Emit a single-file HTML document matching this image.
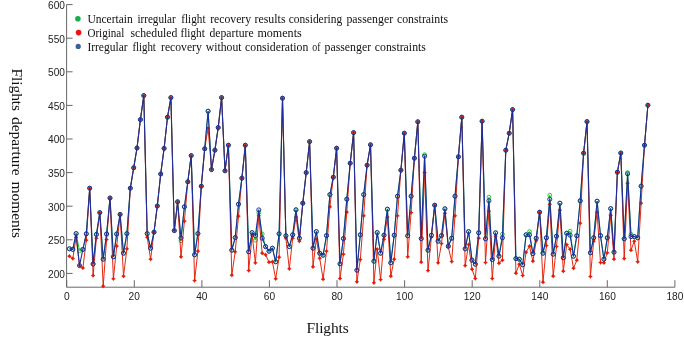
<!DOCTYPE html>
<html><head><meta charset="utf-8"><title>Flights departure moments</title>
<style>html,body{margin:0;padding:0;background:#fff}body{width:684px;height:340px;position:relative;overflow:hidden}</style></head>
<body>
<svg width="684" height="340" viewBox="0 0 684 340" style="position:absolute;left:0;top:0">
<g stroke="#686868" stroke-width="1" fill="none" shape-rendering="auto">
<path d="M66.6,4.6 V287.2 H674.9"/>
<path d="M66.6,273.4 h6"/>
<path d="M66.6,239.8 h6"/>
<path d="M66.6,206.2 h6"/>
<path d="M66.6,172.6 h6"/>
<path d="M66.6,139.0 h6"/>
<path d="M66.6,105.4 h6"/>
<path d="M66.6,71.8 h6"/>
<path d="M66.6,38.2 h6"/>
<path d="M66.6,4.6 h6"/>
<path d="M66.7,287.2 v-7"/>
<path d="M134.3,287.2 v-7"/>
<path d="M201.9,287.2 v-7"/>
<path d="M269.4,287.2 v-7"/>
<path d="M337.0,287.2 v-7"/>
<path d="M404.6,287.2 v-7"/>
<path d="M472.2,287.2 v-7"/>
<path d="M539.8,287.2 v-7"/>
<path d="M607.3,287.2 v-7"/>
<path d="M674.9,287.2 v-7"/>
</g>
<polyline points="69.4,248.8 72.8,249.4 76.1,233.6 79.5,250.7 82.9,249.4 86.3,233.8 89.7,188.2 93.1,264.0 96.4,234.4 99.8,212.6 103.2,259.2 106.6,234.0 110.0,198.0 113.4,256.8 116.7,234.0 120.1,214.4 123.5,253.2 126.9,233.6 130.3,188.2 133.7,167.8 137.0,148.0 140.4,119.6 143.8,95.6 147.2,233.6 150.6,248.2 154.0,232.2 157.3,206.0 160.7,174.0 164.1,148.4 167.5,117.2 170.9,97.6 174.3,230.6 177.6,201.8 181.0,240.7 184.4,206.8 187.8,181.8 191.2,155.6 194.6,254.8 197.9,233.6 201.3,186.2 204.7,148.8 208.1,111.2 211.5,169.6 214.9,150.2 218.2,127.6 221.6,97.6 225.0,170.8 228.4,145.2 231.8,250.2 235.2,237.6 238.5,204.2 241.9,178.2 245.3,145.2 248.7,251.8 252.1,232.6 255.4,240.2 258.8,212.7 262.2,234.0 265.6,246.6 269.0,251.2 272.4,248.2 275.7,261.8 279.1,233.8 282.5,98.2 285.9,235.8 289.3,246.6 292.7,234.8 296.0,209.8 299.4,238.2 302.8,203.2 306.2,172.6 309.6,141.6 313.0,248.2 316.3,231.6 319.7,253.2 323.1,255.2 326.5,235.6 329.9,194.6 333.3,177.2 336.6,148.2 340.0,263.8 343.4,238.6 346.8,199.2 350.2,163.2 353.6,132.6 356.9,270.2 360.3,234.8 363.7,194.6 367.1,165.2 370.5,144.8 373.9,261.2 377.2,232.6 380.6,253.2 384.0,235.2 387.4,209.2 390.8,262.8 394.2,235.2 397.5,196.2 400.9,170.2 404.3,133.2 407.7,235.8 411.1,196.2 414.4,158.2 417.8,121.8 421.2,238.6 424.6,154.7 428.0,250.2 431.4,235.2 434.7,205.2 438.1,241.2 441.5,235.6 444.9,208.8 448.3,246.2 451.7,238.2 455.0,196.2 458.4,156.8 461.8,117.2 465.2,248.8 468.6,231.6 472.0,260.2 475.3,264.2 478.7,232.8 482.1,121.2 485.5,238.8 488.9,197.2 492.3,259.6 495.6,232.8 499.0,256.2 502.4,234.2 505.8,150.2 509.2,133.2 512.6,109.6 515.9,258.6 519.3,259.2 522.7,264.8 526.1,234.8 529.5,231.6 532.9,253.6 536.2,238.2 539.6,212.2 543.0,253.2 546.4,237.8 549.8,195.2 553.2,254.2 556.5,236.2 559.9,203.2 563.3,257.8 566.7,233.2 570.1,231.2 573.5,256.2 576.8,235.8 580.2,200.8 583.6,153.2 587.0,121.6 590.4,252.8 593.7,237.8 597.1,201.2 600.5,235.6 603.9,259.2 607.3,237.8 610.7,208.6 614.0,252.2 617.4,172.2 620.8,153.0 624.2,238.8 627.6,172.6 631.0,234.2 634.3,236.6 637.7,237.8 641.1,186.2 644.5,145.2 647.9,105.2" fill="none" stroke="#22cc33" stroke-width="1" stroke-linejoin="round"/>
<g fill="none" stroke="#22cc33" stroke-width="1">
<circle cx="69.4" cy="248.8" r="1.9"/>
<circle cx="72.8" cy="249.4" r="1.9"/>
<circle cx="76.1" cy="233.6" r="1.9"/>
<circle cx="79.5" cy="250.7" r="1.9"/>
<circle cx="82.9" cy="249.4" r="1.9"/>
<circle cx="86.3" cy="233.8" r="1.9"/>
<circle cx="89.7" cy="188.2" r="1.9"/>
<circle cx="93.1" cy="264.0" r="1.9"/>
<circle cx="96.4" cy="234.4" r="1.9"/>
<circle cx="99.8" cy="212.6" r="1.9"/>
<circle cx="103.2" cy="259.2" r="1.9"/>
<circle cx="106.6" cy="234.0" r="1.9"/>
<circle cx="110.0" cy="198.0" r="1.9"/>
<circle cx="113.4" cy="256.8" r="1.9"/>
<circle cx="116.7" cy="234.0" r="1.9"/>
<circle cx="120.1" cy="214.4" r="1.9"/>
<circle cx="123.5" cy="253.2" r="1.9"/>
<circle cx="126.9" cy="233.6" r="1.9"/>
<circle cx="130.3" cy="188.2" r="1.9"/>
<circle cx="133.7" cy="167.8" r="1.9"/>
<circle cx="137.0" cy="148.0" r="1.9"/>
<circle cx="140.4" cy="119.6" r="1.9"/>
<circle cx="143.8" cy="95.6" r="1.9"/>
<circle cx="147.2" cy="233.6" r="1.9"/>
<circle cx="150.6" cy="248.2" r="1.9"/>
<circle cx="154.0" cy="232.2" r="1.9"/>
<circle cx="157.3" cy="206.0" r="1.9"/>
<circle cx="160.7" cy="174.0" r="1.9"/>
<circle cx="164.1" cy="148.4" r="1.9"/>
<circle cx="167.5" cy="117.2" r="1.9"/>
<circle cx="170.9" cy="97.6" r="1.9"/>
<circle cx="174.3" cy="230.6" r="1.9"/>
<circle cx="177.6" cy="201.8" r="1.9"/>
<circle cx="181.0" cy="240.7" r="1.9"/>
<circle cx="184.4" cy="206.8" r="1.9"/>
<circle cx="187.8" cy="181.8" r="1.9"/>
<circle cx="191.2" cy="155.6" r="1.9"/>
<circle cx="194.6" cy="254.8" r="1.9"/>
<circle cx="197.9" cy="233.6" r="1.9"/>
<circle cx="201.3" cy="186.2" r="1.9"/>
<circle cx="204.7" cy="148.8" r="1.9"/>
<circle cx="208.1" cy="111.2" r="1.9"/>
<circle cx="211.5" cy="169.6" r="1.9"/>
<circle cx="214.9" cy="150.2" r="1.9"/>
<circle cx="218.2" cy="127.6" r="1.9"/>
<circle cx="221.6" cy="97.6" r="1.9"/>
<circle cx="225.0" cy="170.8" r="1.9"/>
<circle cx="228.4" cy="145.2" r="1.9"/>
<circle cx="231.8" cy="250.2" r="1.9"/>
<circle cx="235.2" cy="237.6" r="1.9"/>
<circle cx="238.5" cy="204.2" r="1.9"/>
<circle cx="241.9" cy="178.2" r="1.9"/>
<circle cx="245.3" cy="145.2" r="1.9"/>
<circle cx="248.7" cy="251.8" r="1.9"/>
<circle cx="252.1" cy="232.6" r="1.9"/>
<circle cx="255.4" cy="240.2" r="1.9"/>
<circle cx="258.8" cy="212.7" r="1.9"/>
<circle cx="262.2" cy="234.0" r="1.9"/>
<circle cx="265.6" cy="246.6" r="1.9"/>
<circle cx="269.0" cy="251.2" r="1.9"/>
<circle cx="272.4" cy="248.2" r="1.9"/>
<circle cx="275.7" cy="261.8" r="1.9"/>
<circle cx="279.1" cy="233.8" r="1.9"/>
<circle cx="282.5" cy="98.2" r="1.9"/>
<circle cx="285.9" cy="235.8" r="1.9"/>
<circle cx="289.3" cy="246.6" r="1.9"/>
<circle cx="292.7" cy="234.8" r="1.9"/>
<circle cx="296.0" cy="209.8" r="1.9"/>
<circle cx="299.4" cy="238.2" r="1.9"/>
<circle cx="302.8" cy="203.2" r="1.9"/>
<circle cx="306.2" cy="172.6" r="1.9"/>
<circle cx="309.6" cy="141.6" r="1.9"/>
<circle cx="313.0" cy="248.2" r="1.9"/>
<circle cx="316.3" cy="231.6" r="1.9"/>
<circle cx="319.7" cy="253.2" r="1.9"/>
<circle cx="323.1" cy="255.2" r="1.9"/>
<circle cx="326.5" cy="235.6" r="1.9"/>
<circle cx="329.9" cy="194.6" r="1.9"/>
<circle cx="333.3" cy="177.2" r="1.9"/>
<circle cx="336.6" cy="148.2" r="1.9"/>
<circle cx="340.0" cy="263.8" r="1.9"/>
<circle cx="343.4" cy="238.6" r="1.9"/>
<circle cx="346.8" cy="199.2" r="1.9"/>
<circle cx="350.2" cy="163.2" r="1.9"/>
<circle cx="353.6" cy="132.6" r="1.9"/>
<circle cx="356.9" cy="270.2" r="1.9"/>
<circle cx="360.3" cy="234.8" r="1.9"/>
<circle cx="363.7" cy="194.6" r="1.9"/>
<circle cx="367.1" cy="165.2" r="1.9"/>
<circle cx="370.5" cy="144.8" r="1.9"/>
<circle cx="373.9" cy="261.2" r="1.9"/>
<circle cx="377.2" cy="232.6" r="1.9"/>
<circle cx="380.6" cy="253.2" r="1.9"/>
<circle cx="384.0" cy="235.2" r="1.9"/>
<circle cx="387.4" cy="209.2" r="1.9"/>
<circle cx="390.8" cy="262.8" r="1.9"/>
<circle cx="394.2" cy="235.2" r="1.9"/>
<circle cx="397.5" cy="196.2" r="1.9"/>
<circle cx="400.9" cy="170.2" r="1.9"/>
<circle cx="404.3" cy="133.2" r="1.9"/>
<circle cx="407.7" cy="235.8" r="1.9"/>
<circle cx="411.1" cy="196.2" r="1.9"/>
<circle cx="414.4" cy="158.2" r="1.9"/>
<circle cx="417.8" cy="121.8" r="1.9"/>
<circle cx="421.2" cy="238.6" r="1.9"/>
<circle cx="424.6" cy="154.7" r="1.9"/>
<circle cx="428.0" cy="250.2" r="1.9"/>
<circle cx="431.4" cy="235.2" r="1.9"/>
<circle cx="434.7" cy="205.2" r="1.9"/>
<circle cx="438.1" cy="241.2" r="1.9"/>
<circle cx="441.5" cy="235.6" r="1.9"/>
<circle cx="444.9" cy="208.8" r="1.9"/>
<circle cx="448.3" cy="246.2" r="1.9"/>
<circle cx="451.7" cy="238.2" r="1.9"/>
<circle cx="455.0" cy="196.2" r="1.9"/>
<circle cx="458.4" cy="156.8" r="1.9"/>
<circle cx="461.8" cy="117.2" r="1.9"/>
<circle cx="465.2" cy="248.8" r="1.9"/>
<circle cx="468.6" cy="231.6" r="1.9"/>
<circle cx="472.0" cy="260.2" r="1.9"/>
<circle cx="475.3" cy="264.2" r="1.9"/>
<circle cx="478.7" cy="232.8" r="1.9"/>
<circle cx="482.1" cy="121.2" r="1.9"/>
<circle cx="485.5" cy="238.8" r="1.9"/>
<circle cx="488.9" cy="197.2" r="1.9"/>
<circle cx="492.3" cy="259.6" r="1.9"/>
<circle cx="495.6" cy="232.8" r="1.9"/>
<circle cx="499.0" cy="256.2" r="1.9"/>
<circle cx="502.4" cy="234.2" r="1.9"/>
<circle cx="505.8" cy="150.2" r="1.9"/>
<circle cx="509.2" cy="133.2" r="1.9"/>
<circle cx="512.6" cy="109.6" r="1.9"/>
<circle cx="515.9" cy="258.6" r="1.9"/>
<circle cx="519.3" cy="259.2" r="1.9"/>
<circle cx="522.7" cy="264.8" r="1.9"/>
<circle cx="526.1" cy="234.8" r="1.9"/>
<circle cx="529.5" cy="231.6" r="1.9"/>
<circle cx="532.9" cy="253.6" r="1.9"/>
<circle cx="536.2" cy="238.2" r="1.9"/>
<circle cx="539.6" cy="212.2" r="1.9"/>
<circle cx="543.0" cy="253.2" r="1.9"/>
<circle cx="546.4" cy="237.8" r="1.9"/>
<circle cx="549.8" cy="195.2" r="1.9"/>
<circle cx="553.2" cy="254.2" r="1.9"/>
<circle cx="556.5" cy="236.2" r="1.9"/>
<circle cx="559.9" cy="203.2" r="1.9"/>
<circle cx="563.3" cy="257.8" r="1.9"/>
<circle cx="566.7" cy="233.2" r="1.9"/>
<circle cx="570.1" cy="231.2" r="1.9"/>
<circle cx="573.5" cy="256.2" r="1.9"/>
<circle cx="576.8" cy="235.8" r="1.9"/>
<circle cx="580.2" cy="200.8" r="1.9"/>
<circle cx="583.6" cy="153.2" r="1.9"/>
<circle cx="587.0" cy="121.6" r="1.9"/>
<circle cx="590.4" cy="252.8" r="1.9"/>
<circle cx="593.7" cy="237.8" r="1.9"/>
<circle cx="597.1" cy="201.2" r="1.9"/>
<circle cx="600.5" cy="235.6" r="1.9"/>
<circle cx="603.9" cy="259.2" r="1.9"/>
<circle cx="607.3" cy="237.8" r="1.9"/>
<circle cx="610.7" cy="208.6" r="1.9"/>
<circle cx="614.0" cy="252.2" r="1.9"/>
<circle cx="617.4" cy="172.2" r="1.9"/>
<circle cx="620.8" cy="153.0" r="1.9"/>
<circle cx="624.2" cy="238.8" r="1.9"/>
<circle cx="627.6" cy="172.6" r="1.9"/>
<circle cx="631.0" cy="234.2" r="1.9"/>
<circle cx="634.3" cy="236.6" r="1.9"/>
<circle cx="637.7" cy="237.8" r="1.9"/>
<circle cx="641.1" cy="186.2" r="1.9"/>
<circle cx="644.5" cy="145.2" r="1.9"/>
<circle cx="647.9" cy="105.2" r="1.9"/>
</g>
<polyline points="69.4,256.2 72.8,258.6 76.1,237.2 79.5,265.6 82.9,268.0 86.3,240.2 89.7,188.2 93.1,275.6 96.4,238.2 99.8,212.6 103.2,286.2 106.6,239.6 110.0,198.0 113.4,278.8 116.7,246.2 120.1,214.4 123.5,276.2 126.9,248.8 130.3,188.2 133.7,167.8 137.0,148.0 140.4,119.6 143.8,95.6 147.2,237.2 150.6,259.2 154.0,232.2 157.3,206.0 160.7,174.0 164.1,148.4 167.5,117.2 170.9,97.6 174.3,230.6 177.6,201.8 181.0,256.8 184.4,221.2 187.8,181.8 191.2,155.6 194.6,280.6 197.9,251.2 201.3,186.2 204.7,148.8 208.1,128.2 211.5,169.6 214.9,150.2 218.2,127.6 221.6,97.6 225.0,170.8 228.4,145.2 231.8,275.2 235.2,251.8 238.5,216.2 241.9,178.2 245.3,145.2 248.7,270.6 252.1,235.2 255.4,262.8 258.8,215.7 262.2,253.2 265.6,254.8 269.0,262.2 272.4,261.8 275.7,278.8 279.1,257.2 282.5,98.2 285.9,238.2 289.3,268.8 292.7,238.2 296.0,217.2 299.4,241.2 302.8,203.2 306.2,172.6 309.6,141.6 313.0,266.8 316.3,239.2 319.7,258.2 323.1,279.2 326.5,251.2 329.9,206.8 333.3,177.2 336.6,148.2 340.0,278.6 343.4,254.2 346.8,212.2 350.2,163.2 353.6,132.6 356.9,281.8 360.3,259.6 363.7,215.8 367.1,165.2 370.5,144.8 373.9,282.8 377.2,249.2 380.6,279.6 384.0,239.2 387.4,217.2 390.8,276.2 394.2,259.2 397.5,215.8 400.9,170.2 404.3,133.2 407.7,256.8 411.1,212.6 414.4,158.2 417.8,121.8 421.2,262.2 424.6,172.6 428.0,270.6 431.4,237.2 434.7,205.2 438.1,262.8 441.5,243.6 444.9,213.2 448.3,247.2 451.7,261.6 455.0,215.8 458.4,156.8 461.8,117.2 465.2,265.6 468.6,244.6 472.0,269.2 475.3,278.6 478.7,238.2 482.1,121.2 485.5,262.6 488.9,211.2 492.3,278.6 495.6,236.2 499.0,263.2 502.4,260.2 505.8,150.2 509.2,133.2 512.6,109.6 515.9,273.2 519.3,264.2 522.7,275.6 526.1,252.2 529.5,246.2 532.9,261.2 536.2,240.8 539.6,212.2 543.0,282.2 546.4,245.6 549.8,204.2 553.2,276.2 556.5,246.6 559.9,210.2 563.3,271.2 566.7,244.6 570.1,249.2 573.5,268.2 576.8,260.2 580.2,223.2 583.6,153.2 587.0,121.6 590.4,276.6 593.7,241.2 597.1,212.2 600.5,262.6 603.9,262.8 607.3,252.8 610.7,215.2 614.0,259.2 617.4,172.2 620.8,153.0 624.2,258.6 627.6,183.2 631.0,250.2 634.3,241.2 637.7,261.8 641.1,203.2 644.5,145.2 647.9,105.2" fill="none" stroke="#e21c05" stroke-width="0.95" stroke-linejoin="round"/>
<g fill="#e21c05" stroke="#e21c05" stroke-width="0.9">
<path d="M67.4,256.2h4M69.4,254.2v4"/><circle cx="69.4" cy="256.2" r="1.35" stroke="none"/>
<path d="M70.8,258.6h4M72.8,256.6v4"/><circle cx="72.8" cy="258.6" r="1.35" stroke="none"/>
<path d="M74.1,237.2h4M76.1,235.2v4"/><circle cx="76.1" cy="237.2" r="1.35" stroke="none"/>
<path d="M77.5,265.6h4M79.5,263.6v4"/><circle cx="79.5" cy="265.6" r="1.35" stroke="none"/>
<path d="M80.9,268.0h4M82.9,266.0v4"/><circle cx="82.9" cy="268.0" r="1.35" stroke="none"/>
<path d="M84.3,240.2h4M86.3,238.2v4"/><circle cx="86.3" cy="240.2" r="1.35" stroke="none"/>
<path d="M87.7,188.2h4M89.7,186.2v4"/><circle cx="89.7" cy="188.2" r="1.35" stroke="none"/>
<path d="M91.1,275.6h4M93.1,273.6v4"/><circle cx="93.1" cy="275.6" r="1.35" stroke="none"/>
<path d="M94.4,238.2h4M96.4,236.2v4"/><circle cx="96.4" cy="238.2" r="1.35" stroke="none"/>
<path d="M97.8,212.6h4M99.8,210.6v4"/><circle cx="99.8" cy="212.6" r="1.35" stroke="none"/>
<path d="M101.2,286.2h4M103.2,284.2v4"/><circle cx="103.2" cy="286.2" r="1.35" stroke="none"/>
<path d="M104.6,239.6h4M106.6,237.6v4"/><circle cx="106.6" cy="239.6" r="1.35" stroke="none"/>
<path d="M108.0,198.0h4M110.0,196.0v4"/><circle cx="110.0" cy="198.0" r="1.35" stroke="none"/>
<path d="M111.4,278.8h4M113.4,276.8v4"/><circle cx="113.4" cy="278.8" r="1.35" stroke="none"/>
<path d="M114.7,246.2h4M116.7,244.2v4"/><circle cx="116.7" cy="246.2" r="1.35" stroke="none"/>
<path d="M118.1,214.4h4M120.1,212.4v4"/><circle cx="120.1" cy="214.4" r="1.35" stroke="none"/>
<path d="M121.5,276.2h4M123.5,274.2v4"/><circle cx="123.5" cy="276.2" r="1.35" stroke="none"/>
<path d="M124.9,248.8h4M126.9,246.8v4"/><circle cx="126.9" cy="248.8" r="1.35" stroke="none"/>
<path d="M128.3,188.2h4M130.3,186.2v4"/><circle cx="130.3" cy="188.2" r="1.35" stroke="none"/>
<path d="M131.7,167.8h4M133.7,165.8v4"/><circle cx="133.7" cy="167.8" r="1.35" stroke="none"/>
<path d="M135.0,148.0h4M137.0,146.0v4"/><circle cx="137.0" cy="148.0" r="1.35" stroke="none"/>
<path d="M138.4,119.6h4M140.4,117.6v4"/><circle cx="140.4" cy="119.6" r="1.35" stroke="none"/>
<path d="M141.8,95.6h4M143.8,93.6v4"/><circle cx="143.8" cy="95.6" r="1.35" stroke="none"/>
<path d="M145.2,237.2h4M147.2,235.2v4"/><circle cx="147.2" cy="237.2" r="1.35" stroke="none"/>
<path d="M148.6,259.2h4M150.6,257.2v4"/><circle cx="150.6" cy="259.2" r="1.35" stroke="none"/>
<path d="M152.0,232.2h4M154.0,230.2v4"/><circle cx="154.0" cy="232.2" r="1.35" stroke="none"/>
<path d="M155.3,206.0h4M157.3,204.0v4"/><circle cx="157.3" cy="206.0" r="1.35" stroke="none"/>
<path d="M158.7,174.0h4M160.7,172.0v4"/><circle cx="160.7" cy="174.0" r="1.35" stroke="none"/>
<path d="M162.1,148.4h4M164.1,146.4v4"/><circle cx="164.1" cy="148.4" r="1.35" stroke="none"/>
<path d="M165.5,117.2h4M167.5,115.2v4"/><circle cx="167.5" cy="117.2" r="1.35" stroke="none"/>
<path d="M168.9,97.6h4M170.9,95.6v4"/><circle cx="170.9" cy="97.6" r="1.35" stroke="none"/>
<path d="M172.3,230.6h4M174.3,228.6v4"/><circle cx="174.3" cy="230.6" r="1.35" stroke="none"/>
<path d="M175.6,201.8h4M177.6,199.8v4"/><circle cx="177.6" cy="201.8" r="1.35" stroke="none"/>
<path d="M179.0,256.8h4M181.0,254.8v4"/><circle cx="181.0" cy="256.8" r="1.35" stroke="none"/>
<path d="M182.4,221.2h4M184.4,219.2v4"/><circle cx="184.4" cy="221.2" r="1.35" stroke="none"/>
<path d="M185.8,181.8h4M187.8,179.8v4"/><circle cx="187.8" cy="181.8" r="1.35" stroke="none"/>
<path d="M189.2,155.6h4M191.2,153.6v4"/><circle cx="191.2" cy="155.6" r="1.35" stroke="none"/>
<path d="M192.6,280.6h4M194.6,278.6v4"/><circle cx="194.6" cy="280.6" r="1.35" stroke="none"/>
<path d="M195.9,251.2h4M197.9,249.2v4"/><circle cx="197.9" cy="251.2" r="1.35" stroke="none"/>
<path d="M199.3,186.2h4M201.3,184.2v4"/><circle cx="201.3" cy="186.2" r="1.35" stroke="none"/>
<path d="M202.7,148.8h4M204.7,146.8v4"/><circle cx="204.7" cy="148.8" r="1.35" stroke="none"/>
<path d="M206.1,128.2h4M208.1,126.2v4"/><circle cx="208.1" cy="128.2" r="1.35" stroke="none"/>
<path d="M209.5,169.6h4M211.5,167.6v4"/><circle cx="211.5" cy="169.6" r="1.35" stroke="none"/>
<path d="M212.9,150.2h4M214.9,148.2v4"/><circle cx="214.9" cy="150.2" r="1.35" stroke="none"/>
<path d="M216.2,127.6h4M218.2,125.6v4"/><circle cx="218.2" cy="127.6" r="1.35" stroke="none"/>
<path d="M219.6,97.6h4M221.6,95.6v4"/><circle cx="221.6" cy="97.6" r="1.35" stroke="none"/>
<path d="M223.0,170.8h4M225.0,168.8v4"/><circle cx="225.0" cy="170.8" r="1.35" stroke="none"/>
<path d="M226.4,145.2h4M228.4,143.2v4"/><circle cx="228.4" cy="145.2" r="1.35" stroke="none"/>
<path d="M229.8,275.2h4M231.8,273.2v4"/><circle cx="231.8" cy="275.2" r="1.35" stroke="none"/>
<path d="M233.2,251.8h4M235.2,249.8v4"/><circle cx="235.2" cy="251.8" r="1.35" stroke="none"/>
<path d="M236.5,216.2h4M238.5,214.2v4"/><circle cx="238.5" cy="216.2" r="1.35" stroke="none"/>
<path d="M239.9,178.2h4M241.9,176.2v4"/><circle cx="241.9" cy="178.2" r="1.35" stroke="none"/>
<path d="M243.3,145.2h4M245.3,143.2v4"/><circle cx="245.3" cy="145.2" r="1.35" stroke="none"/>
<path d="M246.7,270.6h4M248.7,268.6v4"/><circle cx="248.7" cy="270.6" r="1.35" stroke="none"/>
<path d="M250.1,235.2h4M252.1,233.2v4"/><circle cx="252.1" cy="235.2" r="1.35" stroke="none"/>
<path d="M253.4,262.8h4M255.4,260.8v4"/><circle cx="255.4" cy="262.8" r="1.35" stroke="none"/>
<path d="M256.8,215.7h4M258.8,213.7v4"/><circle cx="258.8" cy="215.7" r="1.35" stroke="none"/>
<path d="M260.2,253.2h4M262.2,251.2v4"/><circle cx="262.2" cy="253.2" r="1.35" stroke="none"/>
<path d="M263.6,254.8h4M265.6,252.8v4"/><circle cx="265.6" cy="254.8" r="1.35" stroke="none"/>
<path d="M267.0,262.2h4M269.0,260.2v4"/><circle cx="269.0" cy="262.2" r="1.35" stroke="none"/>
<path d="M270.4,261.8h4M272.4,259.8v4"/><circle cx="272.4" cy="261.8" r="1.35" stroke="none"/>
<path d="M273.7,278.8h4M275.7,276.8v4"/><circle cx="275.7" cy="278.8" r="1.35" stroke="none"/>
<path d="M277.1,257.2h4M279.1,255.2v4"/><circle cx="279.1" cy="257.2" r="1.35" stroke="none"/>
<path d="M280.5,98.2h4M282.5,96.2v4"/><circle cx="282.5" cy="98.2" r="1.35" stroke="none"/>
<path d="M283.9,238.2h4M285.9,236.2v4"/><circle cx="285.9" cy="238.2" r="1.35" stroke="none"/>
<path d="M287.3,268.8h4M289.3,266.8v4"/><circle cx="289.3" cy="268.8" r="1.35" stroke="none"/>
<path d="M290.7,238.2h4M292.7,236.2v4"/><circle cx="292.7" cy="238.2" r="1.35" stroke="none"/>
<path d="M294.0,217.2h4M296.0,215.2v4"/><circle cx="296.0" cy="217.2" r="1.35" stroke="none"/>
<path d="M297.4,241.2h4M299.4,239.2v4"/><circle cx="299.4" cy="241.2" r="1.35" stroke="none"/>
<path d="M300.8,203.2h4M302.8,201.2v4"/><circle cx="302.8" cy="203.2" r="1.35" stroke="none"/>
<path d="M304.2,172.6h4M306.2,170.6v4"/><circle cx="306.2" cy="172.6" r="1.35" stroke="none"/>
<path d="M307.6,141.6h4M309.6,139.6v4"/><circle cx="309.6" cy="141.6" r="1.35" stroke="none"/>
<path d="M311.0,266.8h4M313.0,264.8v4"/><circle cx="313.0" cy="266.8" r="1.35" stroke="none"/>
<path d="M314.3,239.2h4M316.3,237.2v4"/><circle cx="316.3" cy="239.2" r="1.35" stroke="none"/>
<path d="M317.7,258.2h4M319.7,256.2v4"/><circle cx="319.7" cy="258.2" r="1.35" stroke="none"/>
<path d="M321.1,279.2h4M323.1,277.2v4"/><circle cx="323.1" cy="279.2" r="1.35" stroke="none"/>
<path d="M324.5,251.2h4M326.5,249.2v4"/><circle cx="326.5" cy="251.2" r="1.35" stroke="none"/>
<path d="M327.9,206.8h4M329.9,204.8v4"/><circle cx="329.9" cy="206.8" r="1.35" stroke="none"/>
<path d="M331.3,177.2h4M333.3,175.2v4"/><circle cx="333.3" cy="177.2" r="1.35" stroke="none"/>
<path d="M334.6,148.2h4M336.6,146.2v4"/><circle cx="336.6" cy="148.2" r="1.35" stroke="none"/>
<path d="M338.0,278.6h4M340.0,276.6v4"/><circle cx="340.0" cy="278.6" r="1.35" stroke="none"/>
<path d="M341.4,254.2h4M343.4,252.2v4"/><circle cx="343.4" cy="254.2" r="1.35" stroke="none"/>
<path d="M344.8,212.2h4M346.8,210.2v4"/><circle cx="346.8" cy="212.2" r="1.35" stroke="none"/>
<path d="M348.2,163.2h4M350.2,161.2v4"/><circle cx="350.2" cy="163.2" r="1.35" stroke="none"/>
<path d="M351.6,132.6h4M353.6,130.6v4"/><circle cx="353.6" cy="132.6" r="1.35" stroke="none"/>
<path d="M354.9,281.8h4M356.9,279.8v4"/><circle cx="356.9" cy="281.8" r="1.35" stroke="none"/>
<path d="M358.3,259.6h4M360.3,257.6v4"/><circle cx="360.3" cy="259.6" r="1.35" stroke="none"/>
<path d="M361.7,215.8h4M363.7,213.8v4"/><circle cx="363.7" cy="215.8" r="1.35" stroke="none"/>
<path d="M365.1,165.2h4M367.1,163.2v4"/><circle cx="367.1" cy="165.2" r="1.35" stroke="none"/>
<path d="M368.5,144.8h4M370.5,142.8v4"/><circle cx="370.5" cy="144.8" r="1.35" stroke="none"/>
<path d="M371.9,282.8h4M373.9,280.8v4"/><circle cx="373.9" cy="282.8" r="1.35" stroke="none"/>
<path d="M375.2,249.2h4M377.2,247.2v4"/><circle cx="377.2" cy="249.2" r="1.35" stroke="none"/>
<path d="M378.6,279.6h4M380.6,277.6v4"/><circle cx="380.6" cy="279.6" r="1.35" stroke="none"/>
<path d="M382.0,239.2h4M384.0,237.2v4"/><circle cx="384.0" cy="239.2" r="1.35" stroke="none"/>
<path d="M385.4,217.2h4M387.4,215.2v4"/><circle cx="387.4" cy="217.2" r="1.35" stroke="none"/>
<path d="M388.8,276.2h4M390.8,274.2v4"/><circle cx="390.8" cy="276.2" r="1.35" stroke="none"/>
<path d="M392.2,259.2h4M394.2,257.2v4"/><circle cx="394.2" cy="259.2" r="1.35" stroke="none"/>
<path d="M395.5,215.8h4M397.5,213.8v4"/><circle cx="397.5" cy="215.8" r="1.35" stroke="none"/>
<path d="M398.9,170.2h4M400.9,168.2v4"/><circle cx="400.9" cy="170.2" r="1.35" stroke="none"/>
<path d="M402.3,133.2h4M404.3,131.2v4"/><circle cx="404.3" cy="133.2" r="1.35" stroke="none"/>
<path d="M405.7,256.8h4M407.7,254.8v4"/><circle cx="407.7" cy="256.8" r="1.35" stroke="none"/>
<path d="M409.1,212.6h4M411.1,210.6v4"/><circle cx="411.1" cy="212.6" r="1.35" stroke="none"/>
<path d="M412.4,158.2h4M414.4,156.2v4"/><circle cx="414.4" cy="158.2" r="1.35" stroke="none"/>
<path d="M415.8,121.8h4M417.8,119.8v4"/><circle cx="417.8" cy="121.8" r="1.35" stroke="none"/>
<path d="M419.2,262.2h4M421.2,260.2v4"/><circle cx="421.2" cy="262.2" r="1.35" stroke="none"/>
<path d="M422.6,172.6h4M424.6,170.6v4"/><circle cx="424.6" cy="172.6" r="1.35" stroke="none"/>
<path d="M426.0,270.6h4M428.0,268.6v4"/><circle cx="428.0" cy="270.6" r="1.35" stroke="none"/>
<path d="M429.4,237.2h4M431.4,235.2v4"/><circle cx="431.4" cy="237.2" r="1.35" stroke="none"/>
<path d="M432.7,205.2h4M434.7,203.2v4"/><circle cx="434.7" cy="205.2" r="1.35" stroke="none"/>
<path d="M436.1,262.8h4M438.1,260.8v4"/><circle cx="438.1" cy="262.8" r="1.35" stroke="none"/>
<path d="M439.5,243.6h4M441.5,241.6v4"/><circle cx="441.5" cy="243.6" r="1.35" stroke="none"/>
<path d="M442.9,213.2h4M444.9,211.2v4"/><circle cx="444.9" cy="213.2" r="1.35" stroke="none"/>
<path d="M446.3,247.2h4M448.3,245.2v4"/><circle cx="448.3" cy="247.2" r="1.35" stroke="none"/>
<path d="M449.7,261.6h4M451.7,259.6v4"/><circle cx="451.7" cy="261.6" r="1.35" stroke="none"/>
<path d="M453.0,215.8h4M455.0,213.8v4"/><circle cx="455.0" cy="215.8" r="1.35" stroke="none"/>
<path d="M456.4,156.8h4M458.4,154.8v4"/><circle cx="458.4" cy="156.8" r="1.35" stroke="none"/>
<path d="M459.8,117.2h4M461.8,115.2v4"/><circle cx="461.8" cy="117.2" r="1.35" stroke="none"/>
<path d="M463.2,265.6h4M465.2,263.6v4"/><circle cx="465.2" cy="265.6" r="1.35" stroke="none"/>
<path d="M466.6,244.6h4M468.6,242.6v4"/><circle cx="468.6" cy="244.6" r="1.35" stroke="none"/>
<path d="M470.0,269.2h4M472.0,267.2v4"/><circle cx="472.0" cy="269.2" r="1.35" stroke="none"/>
<path d="M473.3,278.6h4M475.3,276.6v4"/><circle cx="475.3" cy="278.6" r="1.35" stroke="none"/>
<path d="M476.7,238.2h4M478.7,236.2v4"/><circle cx="478.7" cy="238.2" r="1.35" stroke="none"/>
<path d="M480.1,121.2h4M482.1,119.2v4"/><circle cx="482.1" cy="121.2" r="1.35" stroke="none"/>
<path d="M483.5,262.6h4M485.5,260.6v4"/><circle cx="485.5" cy="262.6" r="1.35" stroke="none"/>
<path d="M486.9,211.2h4M488.9,209.2v4"/><circle cx="488.9" cy="211.2" r="1.35" stroke="none"/>
<path d="M490.3,278.6h4M492.3,276.6v4"/><circle cx="492.3" cy="278.6" r="1.35" stroke="none"/>
<path d="M493.6,236.2h4M495.6,234.2v4"/><circle cx="495.6" cy="236.2" r="1.35" stroke="none"/>
<path d="M497.0,263.2h4M499.0,261.2v4"/><circle cx="499.0" cy="263.2" r="1.35" stroke="none"/>
<path d="M500.4,260.2h4M502.4,258.2v4"/><circle cx="502.4" cy="260.2" r="1.35" stroke="none"/>
<path d="M503.8,150.2h4M505.8,148.2v4"/><circle cx="505.8" cy="150.2" r="1.35" stroke="none"/>
<path d="M507.2,133.2h4M509.2,131.2v4"/><circle cx="509.2" cy="133.2" r="1.35" stroke="none"/>
<path d="M510.6,109.6h4M512.6,107.6v4"/><circle cx="512.6" cy="109.6" r="1.35" stroke="none"/>
<path d="M513.9,273.2h4M515.9,271.2v4"/><circle cx="515.9" cy="273.2" r="1.35" stroke="none"/>
<path d="M517.3,264.2h4M519.3,262.2v4"/><circle cx="519.3" cy="264.2" r="1.35" stroke="none"/>
<path d="M520.7,275.6h4M522.7,273.6v4"/><circle cx="522.7" cy="275.6" r="1.35" stroke="none"/>
<path d="M524.1,252.2h4M526.1,250.2v4"/><circle cx="526.1" cy="252.2" r="1.35" stroke="none"/>
<path d="M527.5,246.2h4M529.5,244.2v4"/><circle cx="529.5" cy="246.2" r="1.35" stroke="none"/>
<path d="M530.9,261.2h4M532.9,259.2v4"/><circle cx="532.9" cy="261.2" r="1.35" stroke="none"/>
<path d="M534.2,240.8h4M536.2,238.8v4"/><circle cx="536.2" cy="240.8" r="1.35" stroke="none"/>
<path d="M537.6,212.2h4M539.6,210.2v4"/><circle cx="539.6" cy="212.2" r="1.35" stroke="none"/>
<path d="M541.0,282.2h4M543.0,280.2v4"/><circle cx="543.0" cy="282.2" r="1.35" stroke="none"/>
<path d="M544.4,245.6h4M546.4,243.6v4"/><circle cx="546.4" cy="245.6" r="1.35" stroke="none"/>
<path d="M547.8,204.2h4M549.8,202.2v4"/><circle cx="549.8" cy="204.2" r="1.35" stroke="none"/>
<path d="M551.2,276.2h4M553.2,274.2v4"/><circle cx="553.2" cy="276.2" r="1.35" stroke="none"/>
<path d="M554.5,246.6h4M556.5,244.6v4"/><circle cx="556.5" cy="246.6" r="1.35" stroke="none"/>
<path d="M557.9,210.2h4M559.9,208.2v4"/><circle cx="559.9" cy="210.2" r="1.35" stroke="none"/>
<path d="M561.3,271.2h4M563.3,269.2v4"/><circle cx="563.3" cy="271.2" r="1.35" stroke="none"/>
<path d="M564.7,244.6h4M566.7,242.6v4"/><circle cx="566.7" cy="244.6" r="1.35" stroke="none"/>
<path d="M568.1,249.2h4M570.1,247.2v4"/><circle cx="570.1" cy="249.2" r="1.35" stroke="none"/>
<path d="M571.5,268.2h4M573.5,266.2v4"/><circle cx="573.5" cy="268.2" r="1.35" stroke="none"/>
<path d="M574.8,260.2h4M576.8,258.2v4"/><circle cx="576.8" cy="260.2" r="1.35" stroke="none"/>
<path d="M578.2,223.2h4M580.2,221.2v4"/><circle cx="580.2" cy="223.2" r="1.35" stroke="none"/>
<path d="M581.6,153.2h4M583.6,151.2v4"/><circle cx="583.6" cy="153.2" r="1.35" stroke="none"/>
<path d="M585.0,121.6h4M587.0,119.6v4"/><circle cx="587.0" cy="121.6" r="1.35" stroke="none"/>
<path d="M588.4,276.6h4M590.4,274.6v4"/><circle cx="590.4" cy="276.6" r="1.35" stroke="none"/>
<path d="M591.7,241.2h4M593.7,239.2v4"/><circle cx="593.7" cy="241.2" r="1.35" stroke="none"/>
<path d="M595.1,212.2h4M597.1,210.2v4"/><circle cx="597.1" cy="212.2" r="1.35" stroke="none"/>
<path d="M598.5,262.6h4M600.5,260.6v4"/><circle cx="600.5" cy="262.6" r="1.35" stroke="none"/>
<path d="M601.9,262.8h4M603.9,260.8v4"/><circle cx="603.9" cy="262.8" r="1.35" stroke="none"/>
<path d="M605.3,252.8h4M607.3,250.8v4"/><circle cx="607.3" cy="252.8" r="1.35" stroke="none"/>
<path d="M608.7,215.2h4M610.7,213.2v4"/><circle cx="610.7" cy="215.2" r="1.35" stroke="none"/>
<path d="M612.0,259.2h4M614.0,257.2v4"/><circle cx="614.0" cy="259.2" r="1.35" stroke="none"/>
<path d="M615.4,172.2h4M617.4,170.2v4"/><circle cx="617.4" cy="172.2" r="1.35" stroke="none"/>
<path d="M618.8,153.0h4M620.8,151.0v4"/><circle cx="620.8" cy="153.0" r="1.35" stroke="none"/>
<path d="M622.2,258.6h4M624.2,256.6v4"/><circle cx="624.2" cy="258.6" r="1.35" stroke="none"/>
<path d="M625.6,183.2h4M627.6,181.2v4"/><circle cx="627.6" cy="183.2" r="1.35" stroke="none"/>
<path d="M629.0,250.2h4M631.0,248.2v4"/><circle cx="631.0" cy="250.2" r="1.35" stroke="none"/>
<path d="M632.3,241.2h4M634.3,239.2v4"/><circle cx="634.3" cy="241.2" r="1.35" stroke="none"/>
<path d="M635.7,261.8h4M637.7,259.8v4"/><circle cx="637.7" cy="261.8" r="1.35" stroke="none"/>
<path d="M639.1,203.2h4M641.1,201.2v4"/><circle cx="641.1" cy="203.2" r="1.35" stroke="none"/>
<path d="M642.5,145.2h4M644.5,143.2v4"/><circle cx="644.5" cy="145.2" r="1.35" stroke="none"/>
<path d="M645.9,105.2h4M647.9,103.2v4"/><circle cx="647.9" cy="105.2" r="1.35" stroke="none"/>
</g>
<polyline points="69.4,248.8 72.8,249.4 76.1,233.6 79.5,265.6 82.9,249.4 86.3,233.8 89.7,188.2 93.1,264.0 96.4,234.4 99.8,212.6 103.2,259.2 106.6,234.0 110.0,198.0 113.4,256.8 116.7,234.0 120.1,214.4 123.5,253.2 126.9,233.6 130.3,188.2 133.7,167.8 137.0,148.0 140.4,119.6 143.8,95.6 147.2,233.6 150.6,248.2 154.0,232.2 157.3,206.0 160.7,174.0 164.1,148.4 167.5,117.2 170.9,97.6 174.3,230.6 177.6,201.8 181.0,238.0 184.4,206.8 187.8,181.8 191.2,155.6 194.6,254.8 197.9,233.6 201.3,186.2 204.7,148.8 208.1,111.2 211.5,169.6 214.9,150.2 218.2,127.6 221.6,97.6 225.0,170.8 228.4,145.2 231.8,250.2 235.2,237.6 238.5,204.2 241.9,178.2 245.3,145.2 248.7,251.8 252.1,232.6 255.4,235.6 258.8,209.9 262.2,238.2 265.6,246.6 269.0,251.2 272.4,248.2 275.7,261.8 279.1,233.8 282.5,98.2 285.9,235.8 289.3,246.6 292.7,234.8 296.0,209.8 299.4,238.2 302.8,203.2 306.2,172.6 309.6,141.6 313.0,248.2 316.3,231.6 319.7,253.2 323.1,255.2 326.5,235.6 329.9,194.6 333.3,177.2 336.6,148.2 340.0,263.8 343.4,238.6 346.8,199.2 350.2,163.2 353.6,132.6 356.9,270.2 360.3,234.8 363.7,194.6 367.1,165.2 370.5,144.8 373.9,261.2 377.2,232.6 380.6,253.2 384.0,235.2 387.4,209.2 390.8,262.8 394.2,235.2 397.5,196.2 400.9,170.2 404.3,133.2 407.7,235.8 411.1,196.2 414.4,158.2 417.8,121.8 421.2,238.6 424.6,156.2 428.0,250.2 431.4,235.2 434.7,205.2 438.1,241.2 441.5,235.6 444.9,208.8 448.3,246.2 451.7,238.2 455.0,196.2 458.4,156.8 461.8,117.2 465.2,248.8 468.6,231.6 472.0,260.2 475.3,264.2 478.7,232.8 482.1,121.2 485.5,238.8 488.9,200.8 492.3,259.6 495.6,232.8 499.0,256.2 502.4,237.8 505.8,150.2 509.2,133.2 512.6,109.6 515.9,258.6 519.3,259.2 522.7,264.8 526.1,234.8 529.5,234.8 532.9,253.6 536.2,238.2 539.6,212.2 543.0,253.2 546.4,237.8 549.8,199.2 553.2,254.2 556.5,236.2 559.9,203.2 563.3,257.8 566.7,233.2 570.1,235.2 573.5,256.2 576.8,235.8 580.2,200.8 583.6,153.2 587.0,121.6 590.4,252.8 593.7,237.8 597.1,201.2 600.5,235.6 603.9,259.2 607.3,237.8 610.7,208.6 614.0,252.2 617.4,172.2 620.8,153.0 624.2,238.8 627.6,173.8 631.0,236.6 634.3,236.6 637.7,237.8 641.1,186.2 644.5,145.2 647.9,105.2" fill="none" stroke="#1a2f9e" stroke-width="1.1" stroke-linejoin="round"/>
<g fill="none" stroke="#1a2f9e" stroke-width="1">
<circle cx="69.4" cy="248.8" r="2.05"/>
<circle cx="72.8" cy="249.4" r="2.05"/>
<circle cx="76.1" cy="233.6" r="2.05"/>
<circle cx="79.5" cy="265.6" r="2.05"/>
<circle cx="82.9" cy="249.4" r="2.05"/>
<circle cx="86.3" cy="233.8" r="2.05"/>
<circle cx="89.7" cy="188.2" r="2.05"/>
<circle cx="93.1" cy="264.0" r="2.05"/>
<circle cx="96.4" cy="234.4" r="2.05"/>
<circle cx="99.8" cy="212.6" r="2.05"/>
<circle cx="103.2" cy="259.2" r="2.05"/>
<circle cx="106.6" cy="234.0" r="2.05"/>
<circle cx="110.0" cy="198.0" r="2.05"/>
<circle cx="113.4" cy="256.8" r="2.05"/>
<circle cx="116.7" cy="234.0" r="2.05"/>
<circle cx="120.1" cy="214.4" r="2.05"/>
<circle cx="123.5" cy="253.2" r="2.05"/>
<circle cx="126.9" cy="233.6" r="2.05"/>
<circle cx="130.3" cy="188.2" r="2.05"/>
<circle cx="133.7" cy="167.8" r="2.05"/>
<circle cx="137.0" cy="148.0" r="2.05"/>
<circle cx="140.4" cy="119.6" r="2.05"/>
<circle cx="143.8" cy="95.6" r="2.05"/>
<circle cx="147.2" cy="233.6" r="2.05"/>
<circle cx="150.6" cy="248.2" r="2.05"/>
<circle cx="154.0" cy="232.2" r="2.05"/>
<circle cx="157.3" cy="206.0" r="2.05"/>
<circle cx="160.7" cy="174.0" r="2.05"/>
<circle cx="164.1" cy="148.4" r="2.05"/>
<circle cx="167.5" cy="117.2" r="2.05"/>
<circle cx="170.9" cy="97.6" r="2.05"/>
<circle cx="174.3" cy="230.6" r="2.05"/>
<circle cx="177.6" cy="201.8" r="2.05"/>
<circle cx="181.0" cy="238.0" r="2.05"/>
<circle cx="184.4" cy="206.8" r="2.05"/>
<circle cx="187.8" cy="181.8" r="2.05"/>
<circle cx="191.2" cy="155.6" r="2.05"/>
<circle cx="194.6" cy="254.8" r="2.05"/>
<circle cx="197.9" cy="233.6" r="2.05"/>
<circle cx="201.3" cy="186.2" r="2.05"/>
<circle cx="204.7" cy="148.8" r="2.05"/>
<circle cx="208.1" cy="111.2" r="2.05"/>
<circle cx="211.5" cy="169.6" r="2.05"/>
<circle cx="214.9" cy="150.2" r="2.05"/>
<circle cx="218.2" cy="127.6" r="2.05"/>
<circle cx="221.6" cy="97.6" r="2.05"/>
<circle cx="225.0" cy="170.8" r="2.05"/>
<circle cx="228.4" cy="145.2" r="2.05"/>
<circle cx="231.8" cy="250.2" r="2.05"/>
<circle cx="235.2" cy="237.6" r="2.05"/>
<circle cx="238.5" cy="204.2" r="2.05"/>
<circle cx="241.9" cy="178.2" r="2.05"/>
<circle cx="245.3" cy="145.2" r="2.05"/>
<circle cx="248.7" cy="251.8" r="2.05"/>
<circle cx="252.1" cy="232.6" r="2.05"/>
<circle cx="255.4" cy="235.6" r="2.05"/>
<circle cx="258.8" cy="209.9" r="2.05"/>
<circle cx="262.2" cy="238.2" r="2.05"/>
<circle cx="265.6" cy="246.6" r="2.05"/>
<circle cx="269.0" cy="251.2" r="2.05"/>
<circle cx="272.4" cy="248.2" r="2.05"/>
<circle cx="275.7" cy="261.8" r="2.05"/>
<circle cx="279.1" cy="233.8" r="2.05"/>
<circle cx="282.5" cy="98.2" r="2.05"/>
<circle cx="285.9" cy="235.8" r="2.05"/>
<circle cx="289.3" cy="246.6" r="2.05"/>
<circle cx="292.7" cy="234.8" r="2.05"/>
<circle cx="296.0" cy="209.8" r="2.05"/>
<circle cx="299.4" cy="238.2" r="2.05"/>
<circle cx="302.8" cy="203.2" r="2.05"/>
<circle cx="306.2" cy="172.6" r="2.05"/>
<circle cx="309.6" cy="141.6" r="2.05"/>
<circle cx="313.0" cy="248.2" r="2.05"/>
<circle cx="316.3" cy="231.6" r="2.05"/>
<circle cx="319.7" cy="253.2" r="2.05"/>
<circle cx="323.1" cy="255.2" r="2.05"/>
<circle cx="326.5" cy="235.6" r="2.05"/>
<circle cx="329.9" cy="194.6" r="2.05"/>
<circle cx="333.3" cy="177.2" r="2.05"/>
<circle cx="336.6" cy="148.2" r="2.05"/>
<circle cx="340.0" cy="263.8" r="2.05"/>
<circle cx="343.4" cy="238.6" r="2.05"/>
<circle cx="346.8" cy="199.2" r="2.05"/>
<circle cx="350.2" cy="163.2" r="2.05"/>
<circle cx="353.6" cy="132.6" r="2.05"/>
<circle cx="356.9" cy="270.2" r="2.05"/>
<circle cx="360.3" cy="234.8" r="2.05"/>
<circle cx="363.7" cy="194.6" r="2.05"/>
<circle cx="367.1" cy="165.2" r="2.05"/>
<circle cx="370.5" cy="144.8" r="2.05"/>
<circle cx="373.9" cy="261.2" r="2.05"/>
<circle cx="377.2" cy="232.6" r="2.05"/>
<circle cx="380.6" cy="253.2" r="2.05"/>
<circle cx="384.0" cy="235.2" r="2.05"/>
<circle cx="387.4" cy="209.2" r="2.05"/>
<circle cx="390.8" cy="262.8" r="2.05"/>
<circle cx="394.2" cy="235.2" r="2.05"/>
<circle cx="397.5" cy="196.2" r="2.05"/>
<circle cx="400.9" cy="170.2" r="2.05"/>
<circle cx="404.3" cy="133.2" r="2.05"/>
<circle cx="407.7" cy="235.8" r="2.05"/>
<circle cx="411.1" cy="196.2" r="2.05"/>
<circle cx="414.4" cy="158.2" r="2.05"/>
<circle cx="417.8" cy="121.8" r="2.05"/>
<circle cx="421.2" cy="238.6" r="2.05"/>
<circle cx="424.6" cy="156.2" r="2.05"/>
<circle cx="428.0" cy="250.2" r="2.05"/>
<circle cx="431.4" cy="235.2" r="2.05"/>
<circle cx="434.7" cy="205.2" r="2.05"/>
<circle cx="438.1" cy="241.2" r="2.05"/>
<circle cx="441.5" cy="235.6" r="2.05"/>
<circle cx="444.9" cy="208.8" r="2.05"/>
<circle cx="448.3" cy="246.2" r="2.05"/>
<circle cx="451.7" cy="238.2" r="2.05"/>
<circle cx="455.0" cy="196.2" r="2.05"/>
<circle cx="458.4" cy="156.8" r="2.05"/>
<circle cx="461.8" cy="117.2" r="2.05"/>
<circle cx="465.2" cy="248.8" r="2.05"/>
<circle cx="468.6" cy="231.6" r="2.05"/>
<circle cx="472.0" cy="260.2" r="2.05"/>
<circle cx="475.3" cy="264.2" r="2.05"/>
<circle cx="478.7" cy="232.8" r="2.05"/>
<circle cx="482.1" cy="121.2" r="2.05"/>
<circle cx="485.5" cy="238.8" r="2.05"/>
<circle cx="488.9" cy="200.8" r="2.05"/>
<circle cx="492.3" cy="259.6" r="2.05"/>
<circle cx="495.6" cy="232.8" r="2.05"/>
<circle cx="499.0" cy="256.2" r="2.05"/>
<circle cx="502.4" cy="237.8" r="2.05"/>
<circle cx="505.8" cy="150.2" r="2.05"/>
<circle cx="509.2" cy="133.2" r="2.05"/>
<circle cx="512.6" cy="109.6" r="2.05"/>
<circle cx="515.9" cy="258.6" r="2.05"/>
<circle cx="519.3" cy="259.2" r="2.05"/>
<circle cx="522.7" cy="264.8" r="2.05"/>
<circle cx="526.1" cy="234.8" r="2.05"/>
<circle cx="529.5" cy="234.8" r="2.05"/>
<circle cx="532.9" cy="253.6" r="2.05"/>
<circle cx="536.2" cy="238.2" r="2.05"/>
<circle cx="539.6" cy="212.2" r="2.05"/>
<circle cx="543.0" cy="253.2" r="2.05"/>
<circle cx="546.4" cy="237.8" r="2.05"/>
<circle cx="549.8" cy="199.2" r="2.05"/>
<circle cx="553.2" cy="254.2" r="2.05"/>
<circle cx="556.5" cy="236.2" r="2.05"/>
<circle cx="559.9" cy="203.2" r="2.05"/>
<circle cx="563.3" cy="257.8" r="2.05"/>
<circle cx="566.7" cy="233.2" r="2.05"/>
<circle cx="570.1" cy="235.2" r="2.05"/>
<circle cx="573.5" cy="256.2" r="2.05"/>
<circle cx="576.8" cy="235.8" r="2.05"/>
<circle cx="580.2" cy="200.8" r="2.05"/>
<circle cx="583.6" cy="153.2" r="2.05"/>
<circle cx="587.0" cy="121.6" r="2.05"/>
<circle cx="590.4" cy="252.8" r="2.05"/>
<circle cx="593.7" cy="237.8" r="2.05"/>
<circle cx="597.1" cy="201.2" r="2.05"/>
<circle cx="600.5" cy="235.6" r="2.05"/>
<circle cx="603.9" cy="259.2" r="2.05"/>
<circle cx="607.3" cy="237.8" r="2.05"/>
<circle cx="610.7" cy="208.6" r="2.05"/>
<circle cx="614.0" cy="252.2" r="2.05"/>
<circle cx="617.4" cy="172.2" r="2.05"/>
<circle cx="620.8" cy="153.0" r="2.05"/>
<circle cx="624.2" cy="238.8" r="2.05"/>
<circle cx="627.6" cy="173.8" r="2.05"/>
<circle cx="631.0" cy="236.6" r="2.05"/>
<circle cx="634.3" cy="236.6" r="2.05"/>
<circle cx="637.7" cy="237.8" r="2.05"/>
<circle cx="641.1" cy="186.2" r="2.05"/>
<circle cx="644.5" cy="145.2" r="2.05"/>
<circle cx="647.9" cy="105.2" r="2.05"/>
</g>
<circle cx="77.9" cy="18.7" r="2.8" fill="#13b04b"/>
<circle cx="78.6" cy="32.6" r="2.8" fill="#ff0a0a"/>
<circle cx="78.2" cy="46.4" r="2.6" fill="#3a5f9a"/>
<g font-family="'Liberation Sans', Arial, sans-serif" font-size="11" fill="#222">
<text x="48" y="277.7" textLength="16.9" lengthAdjust="spacingAndGlyphs">200</text>
<text x="48" y="244.1" textLength="16.9" lengthAdjust="spacingAndGlyphs">250</text>
<text x="48" y="210.5" textLength="16.9" lengthAdjust="spacingAndGlyphs">300</text>
<text x="48" y="176.9" textLength="16.9" lengthAdjust="spacingAndGlyphs">350</text>
<text x="48" y="143.3" textLength="16.9" lengthAdjust="spacingAndGlyphs">400</text>
<text x="48" y="109.7" textLength="16.9" lengthAdjust="spacingAndGlyphs">450</text>
<text x="48" y="76.1" textLength="16.9" lengthAdjust="spacingAndGlyphs">500</text>
<text x="48" y="42.5" textLength="16.9" lengthAdjust="spacingAndGlyphs">550</text>
<text x="48" y="8.9" textLength="16.9" lengthAdjust="spacingAndGlyphs">600</text>
<text x="63.9" y="300.3" textLength="5.7" lengthAdjust="spacingAndGlyphs">0</text>
<text x="128.6" y="300.3" textLength="11.3" lengthAdjust="spacingAndGlyphs">20</text>
<text x="196.2" y="300.3" textLength="11.3" lengthAdjust="spacingAndGlyphs">40</text>
<text x="263.8" y="300.3" textLength="11.3" lengthAdjust="spacingAndGlyphs">60</text>
<text x="331.4" y="300.3" textLength="11.3" lengthAdjust="spacingAndGlyphs">80</text>
<text x="396.1" y="300.3" textLength="17.0" lengthAdjust="spacingAndGlyphs">100</text>
<text x="463.7" y="300.3" textLength="17.0" lengthAdjust="spacingAndGlyphs">120</text>
<text x="531.3" y="300.3" textLength="17.0" lengthAdjust="spacingAndGlyphs">140</text>
<text x="598.9" y="300.3" textLength="17.0" lengthAdjust="spacingAndGlyphs">160</text>
<text x="666.4" y="300.3" textLength="17.0" lengthAdjust="spacingAndGlyphs">180</text>
</g>
<g font-family="'Liberation Serif', 'Times New Roman', serif" font-size="11.7" fill="#111">
<text y="22.8"><tspan x="87.4" textLength="45.4" lengthAdjust="spacingAndGlyphs">Uncertain</tspan> <tspan x="137.4" textLength="38.4" lengthAdjust="spacingAndGlyphs">irregular</tspan> <tspan x="181.3" textLength="24.2" lengthAdjust="spacingAndGlyphs">flight</tspan> <tspan x="210.2" textLength="40.9" lengthAdjust="spacingAndGlyphs">recovery</tspan> <tspan x="254.5" textLength="31.0" lengthAdjust="spacingAndGlyphs">results</tspan> <tspan x="288.8" textLength="53.3" lengthAdjust="spacingAndGlyphs">considering</tspan> <tspan x="346.4" textLength="46.7" lengthAdjust="spacingAndGlyphs">passenger</tspan> <tspan x="396.9" textLength="51.3" lengthAdjust="spacingAndGlyphs">constraints</tspan></text>
<text y="36.7"><tspan x="87.4" textLength="36.9" lengthAdjust="spacingAndGlyphs">Original</tspan> <tspan x="130.5" textLength="46.8" lengthAdjust="spacingAndGlyphs">scheduled</tspan> <tspan x="180.4" textLength="24.4" lengthAdjust="spacingAndGlyphs">flight</tspan> <tspan x="209.5" textLength="44.1" lengthAdjust="spacingAndGlyphs">departure</tspan> <tspan x="257.4" textLength="44.3" lengthAdjust="spacingAndGlyphs">moments</tspan></text>
<text y="50.6"><tspan x="87.4" textLength="40.2" lengthAdjust="spacingAndGlyphs">Irregular</tspan> <tspan x="132.4" textLength="23.5" lengthAdjust="spacingAndGlyphs">flight</tspan> <tspan x="161.0" textLength="40.8" lengthAdjust="spacingAndGlyphs">recovery</tspan> <tspan x="205.8" textLength="35.7" lengthAdjust="spacingAndGlyphs">without</tspan> <tspan x="245.1" textLength="63.2" lengthAdjust="spacingAndGlyphs">consideration</tspan> <tspan x="312.3" textLength="8.2" lengthAdjust="spacingAndGlyphs">of</tspan> <tspan x="324.5" textLength="46.6" lengthAdjust="spacingAndGlyphs">passenger</tspan> <tspan x="374.8" textLength="51.1" lengthAdjust="spacingAndGlyphs">constraints</tspan></text>
</g>
<g font-family="'Liberation Serif', 'Times New Roman', serif" font-size="15.5" fill="#111">
<text x="306.5" y="332.9" textLength="42.2" lengthAdjust="spacing">Flights</text>
<text transform="translate(12.2,0) rotate(90)"><tspan x="68.6" y="0" textLength="42.4" lengthAdjust="spacing">Flights</tspan> <tspan x="116.9" y="0" textLength="58.8" lengthAdjust="spacing">departure</tspan> <tspan x="181.6" y="0" textLength="56.5" lengthAdjust="spacing">moments</tspan></text>
</g>
</svg>
</body></html>
